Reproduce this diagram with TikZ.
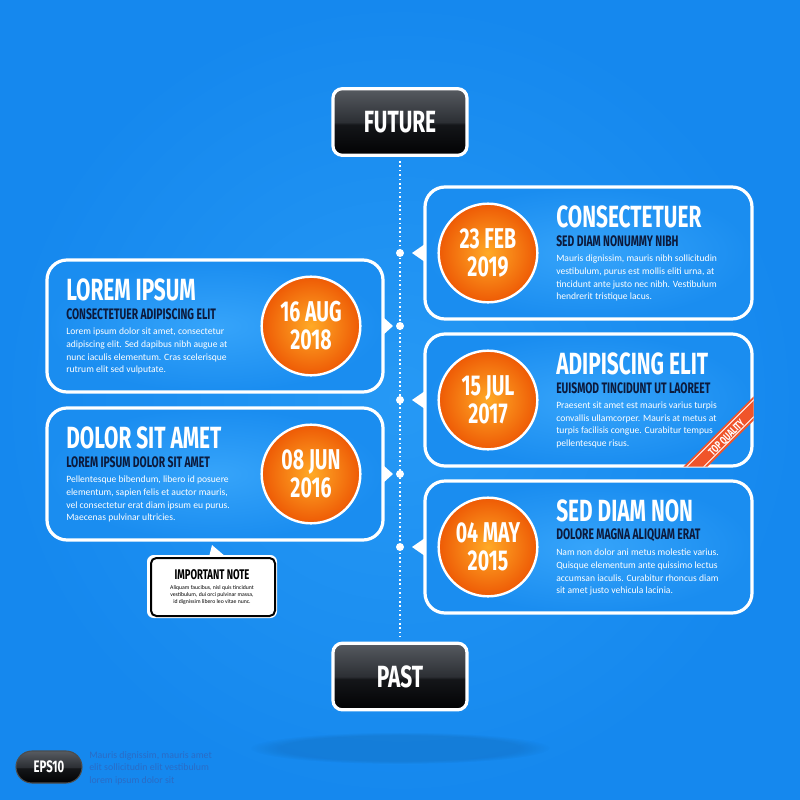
\documentclass[tikz,border=0pt]{standalone}
\usepackage{fontspec}
\setmainfont{Carlito}
\newfontfamily\condf{Fira Sans}[FakeStretch=0.68]
\usetikzlibrary{calc,fadings}
\definecolor{bgA}{HTML}{2699F5}
\definecolor{bgB}{HTML}{1588EE}
\definecolor{cardA}{HTML}{36A4FA}
\definecolor{cardB}{HTML}{1A8DF0}
\definecolor{navy}{HTML}{0C1A3C}
\definecolor{orA}{HTML}{FFAA26}
\definecolor{orB}{HTML}{EE5A05}
\definecolor{btnA}{HTML}{575B61}
\definecolor{btnD}{HTML}{2C2F34}
\definecolor{btnC}{HTML}{141619}
\definecolor{btnB}{HTML}{020203}
\definecolor{ribbon}{HTML}{F0542A}
\definecolor{faint}{HTML}{2A6CC6}
\pgfdeclareverticalshading{btnshade}{100bp}{color(0bp)=(btnB); color(25bp)=(btnB); color(48bp)=(btnC); color(50bp)=(btnD); color(75bp)=(btnA); color(100bp)=(btnA)}
\begin{document}
\begin{tikzpicture}[x=0.75pt,y=-0.75pt,
  card/.style={draw=white, line width=2.4pt, rounded corners=15pt, inner color=cardA, outer color=cardB,
    minimum width=#1, minimum height=99pt, inner sep=0pt, outer sep=0pt},
  datec/.style={circle, draw=white, line width=1.8pt, minimum size=74pt, inner color=orA, outer color=orB,
    text=white, font=\condf\bfseries\fontsize{21.5}{21}\selectfont, align=center, inner sep=0pt},
  ttl/.style={font=\condf\bfseries\fontsize{23}{23}\selectfont, text=white, anchor=west, inner sep=0pt},
  sub/.style={font=\condf\bfseries\fontsize{11.4}{11.4}\selectfont, text=navy, anchor=west, inner sep=0pt},
  body/.style={font=\fontsize{7.2}{9.4}\selectfont, text=white, align=left, anchor=north west, inner sep=0pt},
  btn/.style={rounded corners=7pt, draw=white, line width=2.4pt, shading=btnshade, minimum width=100.5pt,
    minimum height=50pt, text=white, font=\condf\bfseries\fontsize{23}{23}\selectfont, inner sep=0pt},
  dot/.style={circle, fill=white, minimum size=6pt, inner sep=0pt},
  pointer/.style={fill=white}
]
\useasboundingbox (0,0) rectangle (800,800);
\shade[inner color=bgA, outer color=bgB] (0,0) rectangle (800,800);
% shadow under PAST
\fill[black, opacity=0.09, path fading=circle with fuzzy edge 20 percent] (400,748) ellipse (150 and 16);

% buttons
\node[btn] (future) at (400,122) {FUTURE};
\node[btn] (past) at (400,676.5) {PAST};
\draw[white, line width=1.3pt, dotted, shorten <=3pt, shorten >=4pt] (future.south) -- (past.north);

% cards
\node[card=245.25pt] (r1) at (588.5,253) {};
\node[card=252pt] (l1) at (215,326) {};
\node[card=245.25pt] (r2) at (588.5,400) {};
\node[card=252pt] (l2) at (215,474) {};
\node[card=245.25pt] (r3) at (588.5,547) {};

% dots
\node[dot] (d1) at (400,253) {};
\node[dot] (d2) at (400,326) {};
\node[dot] (d3) at (400,400) {};
\node[dot] (d4) at (400,474) {};
\node[dot] (d5) at (400,547) {};

% pointers
\foreach \c in {r1,r2,r3}{
  \fill[pointer] ($(\c.west)+(0,-9)$) -- ($(\c.west)+(-13,0)$) -- ($(\c.west)+(0,9)$) -- cycle;
}
\foreach \c in {l1,l2}{
  \fill[pointer] ($(\c.east)+(0,-9)$) -- ($(\c.east)+(10,0)$) -- ($(\c.east)+(0,9)$) -- cycle;
}

% date circles
\node[datec] (o1) at (488,253) {23 FEB\\2019};
\node[datec] (o2) at (311,326) {16 AUG\\2018};
\node[datec] (o3) at (488,400) {15 JUL\\2017};
\node[datec] (o4) at (311,474) {08 JUN\\2016};
\node[datec] (o5) at (488,547) {04 MAY\\2015};

% texts right 1
\node[ttl] (t1) at (556,217) {CONSECTETUER};
\node[sub] (s1) at (556,241) {SED DIAM NONUMMY NIBH};
\node[body] (b1) at (556,255) {Mauris dignissim, mauris nibh sollicitudin\\vestibulum, purus est mollis eliti urna, at\\tincidunt ante justo nec nibh. Vestibulum\\hendrerit tristique lacus.};
% left 1
\node[ttl] (t2) at (66,290) {LOREM IPSUM};
\node[sub] (s2) at (66,314) {CONSECTETUER ADIPISCING ELIT};
\node[body] (b2) at (66,328) {Lorem ipsum dolor sit amet, consectetur\\adipiscing elit. Sed dapibus nibh augue at\\nunc iaculis elementum. Cras scelerisque\\rutrum elit sed vulputate.};
% right 2
\node[ttl] (t3) at (556,364) {ADIPISCING ELIT};
\node[sub] (s3) at (556,388) {EUISMOD TINCIDUNT UT LAOREET};
\node[body] (b3) at (556,402) {Praesent sit amet est mauris varius turpis\\convallis ullamcorper. Mauris at metus at\\turpis facilisis congue. Curabitur tempus\\pellentesque risus.};
% left 2
\node[ttl] (t4) at (66,438) {DOLOR SIT AMET};
\node[sub] (s4) at (66,462) {LOREM IPSUM DOLOR SIT AMET};
\node[body] (b4) at (66,476) {Pellentesque bibendum, libero id posuere\\elementum, sapien felis et auctor mauris,\\vel consectetur erat diam ipsum eu purus.\\Maecenas pulvinar ultricies.};
% right 3
\node[ttl] (t5) at (556,511) {SED DIAM NON};
\node[sub] (s5) at (556,535) {DOLORE MAGNA ALIQUAM ERAT};
\node[body] (b5) at (556,549) {Nam non dolor ani metus molestie varius.\\Quisque elementum ante quissimo lectus\\accumsan iaculis. Curabitur rhoncus diam\\sit amet justo vehicula lacinia.};

% ribbon on card r2 corner
\begin{scope}
  \clip[rounded corners=16pt] (423.5,332.5) rectangle (753.5,466.5);
  \fill[ribbon] (650,500) -- (790,360) -- (814,360) -- (674,500) -- cycle;
  \draw[white, line width=0.6pt] (653.5,500) -- (793.5,360);
  \draw[white, line width=0.6pt] (670.5,500) -- (810.5,360);
\end{scope}
\node[rotate=45, text=white, font=\condf\bfseries\fontsize{8.5}{8.5}\selectfont, inner sep=0pt] (tq) at (727,438) {TOP QUALITY};

% important note
\node[fill=white, rounded corners=5pt, minimum width=97.5pt, minimum height=47.25pt, inner sep=0pt] (noteout) at (212,586.5) {};
\fill[white] (209,557) -- (212,545) -- (226,557) -- cycle;
\node[draw=black, line width=1.5pt, fill=white, rounded corners=4pt, minimum width=93pt, minimum height=43.5pt, inner sep=0pt] (note) at (213,587) {};
\node[font=\condf\bfseries\fontsize{10.5}{10.5}\selectfont, text=black, inner sep=0pt] (nt) at (212,575) {IMPORTANT NOTE};
\node[font=\fontsize{4.3}{5.3}\selectfont, text=black, align=center, inner sep=0pt, anchor=north] (nb) at (212,585) {Aliquam faucibus, nisl quis tincidunt\\vestibulum, dui orci pulvinar massa,\\id dignissim libero leo vitae nunc.};

% EPS10
\node[rounded corners=12pt, draw=black!70!white, line width=0.8pt, shading=btnshade, minimum width=49.5pt, minimum height=24pt,
  text=white, font=\condf\bfseries\fontsize{12.5}{12.5}\selectfont, inner sep=0pt] (eps) at (49,767) {EPS10};
\node[font=\fontsize{7.4}{9.4}\selectfont, text=faint, align=left, anchor=north west, inner sep=0pt] (epst) at (89,751) {Mauris dignissim, mauris amet\\elit sollicitudin elit vestibulum\\lorem ipsum dolor sit};
\end{tikzpicture}
\end{document}
